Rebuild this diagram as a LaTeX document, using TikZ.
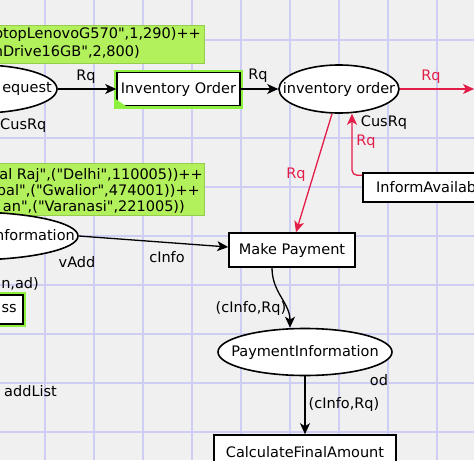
\documentclass[tikz,border=0pt]{standalone}
\usepackage{fontspec}
\setmainfont{DejaVu Sans}[Ligatures=TeXOff]
\usetikzlibrary{arrows.meta,shapes.geometric}
\definecolor{bg}{RGB}{240,240,240}
\definecolor{gridc}{RGB}{206,206,245}
\definecolor{note}{RGB}{178,240,92}
\definecolor{glow}{RGB}{140,240,60}
\definecolor{arcred}{RGB}{228,28,72}
\begin{document}
\begin{tikzpicture}[x=1pt,y=-1pt,
  every node/.style={font=\fontsize{14.5}{16}\selectfont},
  transbox/.style={draw,line width=1.6pt,fill=white,inner sep=2pt},
  placeell/.style={ellipse,draw,line width=1.6pt,fill=white,inner sep=0pt},
  glowing/.style={preaction={draw=glow,line width=6pt}},
  arcline/.style={line width=1.3pt,-{Stealth[length=11pt,width=10pt,inset=3pt]}},
  redarc/.style={arcline,draw=arcred},
  lbl/.style={inner sep=0pt},
  redlbl/.style={lbl,text=arcred},
  notebox/.style={fill=note,draw=note!85!black,line width=0.5pt,inner sep=0pt},
  notetxt/.style={inner sep=0pt,anchor=east}
]
\useasboundingbox (0,0) rectangle (474,474);
\fill[white] (0,0) rectangle (474,474);
\begin{scope}
\clip (0,0) rectangle (474,460);
\fill[bg] (0,0) rectangle (474,460);
\foreach \k in {0,...,8} {
  \draw[gridc,line width=1.2pt] ({45+49*\k},0) -- ({45+49*\k},460);
  \draw[gridc,line width=1.2pt] (0,{40+49*\k}) -- (474,{40+49*\k});
}

% notes
\node[notebox,anchor=north west,minimum width=214,minimum height=38] (note1) at (-10,25) {};
\node[notetxt] (n1a) at (201,35) {otopLenovoG570",1,290)++};
\node[notetxt] (n1b) at (140,52) {nDrive16GB",2,800)};

\node[notebox,anchor=north west,minimum width=214,minimum height=52] (note2) at (-10,163) {};
\node[notetxt] (n2a) at (203,175) {al Raj",("Delhi",110005))++};
\node[notetxt] (n2b) at (200,191) {pal",("Gwalior",474001))++};
\node[notetxt] (n2c) at (185,207) {an",("Varanasi",221005))};

% places
\node[placeell,minimum width=154,minimum height=48] (req) at (-20,89) {};
\node[lbl,anchor=east] (reqtxt) at (52,89) {equest};
\node[placeell,minimum width=120,minimum height=48] (invord) at (339,89) {\makebox[0pt]{inventory order}};
\node[placeell,minimum width=216,minimum height=48] (cinfo) at (-30,236) {};
\node[lbl,anchor=east] (cinfotxt) at (75,235) {nformation};
\node[placeell,minimum width=174,minimum height=47] (payinfo) at (305,352) {\makebox[0pt]{PaymentInformation}};

% transitions
\node[transbox,glowing,minimum width=123,minimum height=33] (invbox) at (178.5,89) {Inventory Order};
\fill[glow] (invbox.south west) -- ++(10,0) -- ++(-10,-7) -- cycle;
\node[transbox,minimum width=150,minimum height=29,anchor=west] (inform) at (362,187.5) {};
\node[lbl,anchor=west] (informtxt) at (376,187) {InformAvailab};
\node[transbox,minimum width=126,minimum height=34] (makepay) at (292,250) {Make Payment};
\node[transbox,glowing,minimum width=60,minimum height=29] (addr) at (-7,309.5) {};
\node[lbl,anchor=east] (addrtxt) at (17,309) {ss};
\node[transbox,minimum width=182,minimum height=34] (calc) at (305,452) {CalculateFinalAmount};

% arcs
\coordinate (rend) at (474,89);
\draw[arcline] (req.east) -- (invbox.west);
\draw[arcline] (invbox.east) -- (invord.west);
\draw[redarc] (invord.east) -- (rend);
\draw[redarc] ([xshift=-7pt]invord.south) -- ([xshift=4pt]makepay.north);
\draw[redarc,rounded corners=5pt] ([yshift=-3pt]inform.north west) -| ([xshift=13pt]invord.south);
\draw[arcline] (cinfo.east) -- ([yshift=3pt]makepay.west);
\draw[arcline] ([xshift=-20pt]makepay.south) .. controls +(0,25) and +(0,-25) .. ([xshift=-15pt]payinfo.north);
\draw[arcline] (payinfo.south) -- (calc.north);

% labels
\node[lbl] (l1) at (86,77) {Rq};
\node[lbl,anchor=west] (l2) at (0,126) {CusRq};
\node[lbl] (l3) at (258,76) {Rq};
\node[redlbl] (l4) at (431,77) {Rq};
\node[lbl] (l5) at (384,123) {CusRq};
\node[redlbl] (l6) at (366,142) {Rq};
\node[redlbl] (l7) at (296,175) {Rq};
\node[lbl] (l8) at (77,262) {vAdd};
\node[lbl] (l9) at (167,257) {cInfo};
\node[lbl,anchor=east] (l10) at (39,284) {n,ad)};
\node[lbl] (l11) at (251,308) {(cInfo,Rq)};
\node[lbl] (l12) at (379,380) {od};
\node[lbl] (l13) at (344,404) {(cInfo,Rq)};
\node[lbl,anchor=west] (l14) at (4,391) {addList};
\end{scope}
\end{tikzpicture}
\end{document}
